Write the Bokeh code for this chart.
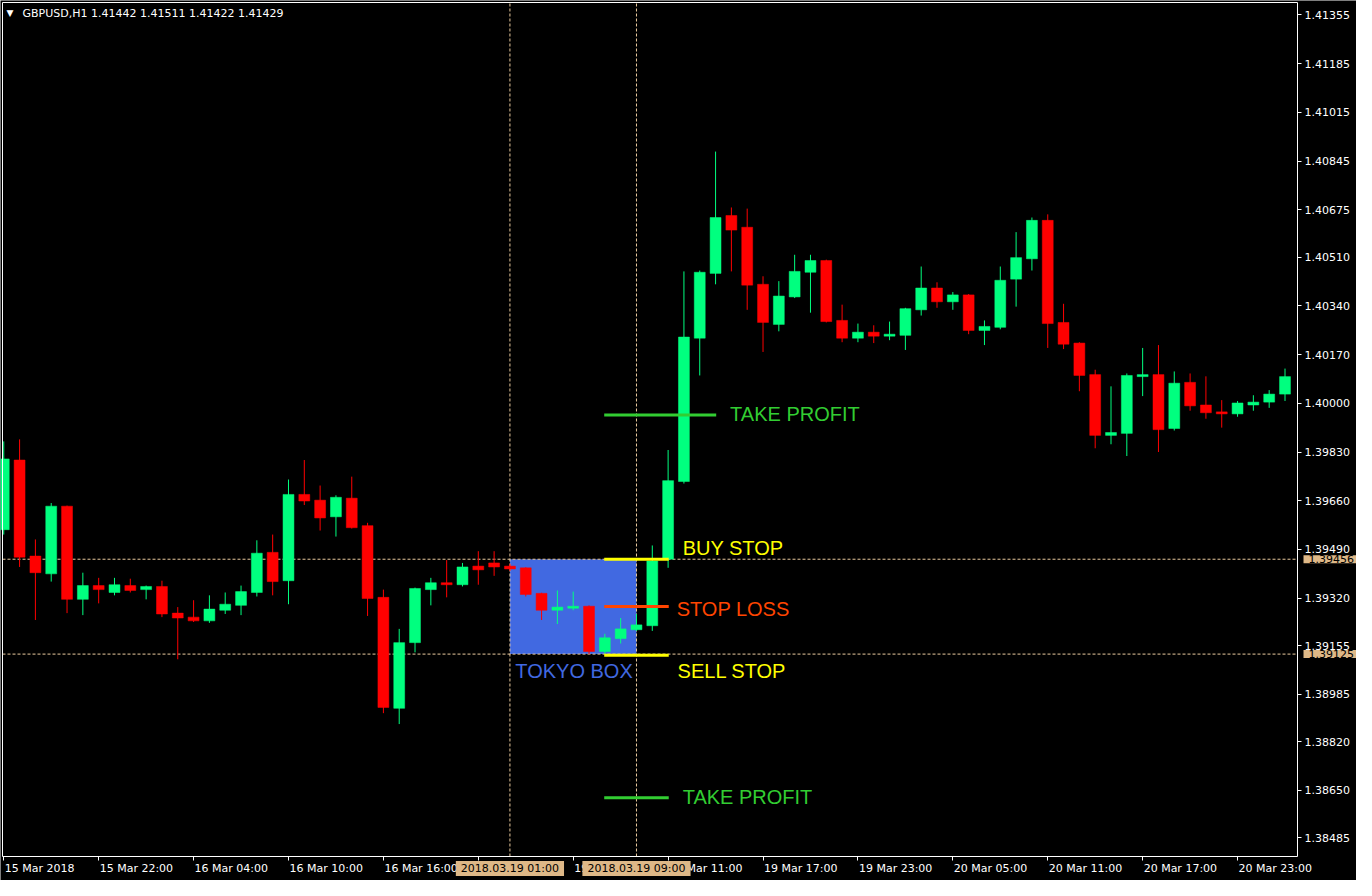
from bokeh.plotting import figure
from bokeh.models import (ColumnDataSource, FixedTicker, Label, Range1d, LinearAxis,
                          NumeralTickFormatter)
from bokeh.embed import file_html
from bokeh.resources import INLINE

# ---------------- data (GBPUSD H1, 15 Mar 16:00 .. 21 Mar 02:00) ----------------
opens = [1.39559, 1.39802, 1.39467, 1.39405, 1.39641, 1.39316, 1.39364, 1.39340, 1.39364, 1.39350,
         1.39361, 1.39268, 1.39254, 1.39241, 1.39278, 1.39295, 1.39340, 1.39480, 1.39381, 1.39682,
         1.39662, 1.39604, 1.39669, 1.39573, 1.39323, 1.38936, 1.39165, 1.39350, 1.39374, 1.39367,
         1.39432, 1.39443, 1.39432, 1.39426, 1.39337, 1.39278, 1.39285, 1.39292, 1.39134, 1.39179,
         1.39210, 1.39224, 1.39456, 1.39727, 1.40227, 1.40453, 1.40655, 1.40614, 1.40415, 1.40275,
         1.40371, 1.40457, 1.40498, 1.40289, 1.40227, 1.40248, 1.40234, 1.40237, 1.40326, 1.40402,
         1.40354, 1.40378, 1.40254, 1.40265, 1.40433, 1.40504, 1.40638, 1.40282, 1.40210, 1.40100,
         1.39888, 1.39895, 1.40093, 1.40100, 1.39912, 1.40073, 1.39994, 1.39970, 1.39963, 1.39994,
         1.40004, 1.40032]
highs = [1.39867, 1.39874, 1.39525, 1.39652, 1.39643, 1.39409, 1.39391, 1.39391, 1.39388, 1.39364,
         1.39381, 1.39289, 1.39313, 1.39330, 1.39340, 1.39364, 1.39522, 1.39542, 1.39734, 1.39802,
         1.39713, 1.39679, 1.39744, 1.39583, 1.39350, 1.39213, 1.39357, 1.39391, 1.39453, 1.39443,
         1.39484, 1.39484, 1.39440, 1.39428, 1.39339, 1.39347, 1.39343, 1.39295, 1.39196, 1.39251,
         1.39265, 1.39504, 1.39837, 1.40460, 1.40463, 1.40878, 1.40683, 1.40679, 1.40443, 1.40426,
         1.40518, 1.40518, 1.40501, 1.40344, 1.40278, 1.40272, 1.40285, 1.40333, 1.40477, 1.40422,
         1.40388, 1.40381, 1.40289, 1.40477, 1.40597, 1.40648, 1.40659, 1.40347, 1.40213, 1.40117,
         1.40059, 1.40104, 1.40193, 1.40203, 1.40111, 1.40104, 1.40094, 1.40011, 1.40008, 1.40028,
         1.40046, 1.40121]
lows = [1.39542, 1.39429, 1.39244, 1.39378, 1.39268, 1.39261, 1.39302, 1.39330, 1.39340, 1.39316,
        1.39254, 1.39107, 1.39237, 1.39234, 1.39265, 1.39261, 1.39326, 1.39330, 1.39299, 1.39645,
        1.39556, 1.39535, 1.39563, 1.39258, 1.38919, 1.38881, 1.39131, 1.39295, 1.39323, 1.39361,
        1.39367, 1.39398, 1.39415, 1.39326, 1.39244, 1.39230, 1.39278, 1.39125, 1.39127, 1.39162,
        1.39206, 1.39206, 1.39426, 1.39720, 1.40097, 1.40415, 1.40460, 1.40326, 1.40179, 1.40251,
        1.40367, 1.40316, 1.40282, 1.40213, 1.40213, 1.40210, 1.40220, 1.40186, 1.40306, 1.40333,
        1.40326, 1.40241, 1.40203, 1.40258, 1.40337, 1.40463, 1.40193, 1.40189, 1.40042, 1.39843,
        1.39857, 1.39816, 1.40025, 1.39830, 1.39905, 1.39974, 1.39946, 1.39915, 1.39953, 1.39974,
        1.39984, 1.40008]
closes = [1.39806, 1.39463, 1.39409, 1.39641, 1.39316, 1.39364, 1.39350, 1.39367, 1.39347, 1.39361,
          1.39265, 1.39251, 1.39241, 1.39282, 1.39299, 1.39343, 1.39477, 1.39378, 1.39682, 1.39659,
          1.39600, 1.39672, 1.39566, 1.39319, 1.38939, 1.39165, 1.39354, 1.39374, 1.39367, 1.39429,
          1.39419, 1.39429, 1.39422, 1.39333, 1.39278, 1.39289, 1.39292, 1.39134, 1.39182, 1.39213,
          1.39227, 1.39450, 1.39730, 1.40231, 1.40457, 1.40648, 1.40604, 1.40412, 1.40282, 1.40374,
          1.40460, 1.40498, 1.40285, 1.40227, 1.40248, 1.40234, 1.40241, 1.40330, 1.40402, 1.40354,
          1.40378, 1.40254, 1.40268, 1.40429, 1.40508, 1.40638, 1.40278, 1.40206, 1.40097, 1.39888,
          1.39898, 1.40097, 1.40100, 1.39908, 1.40070, 1.39991, 1.39967, 1.39963, 1.40001, 1.40004,
          1.40032, 1.40093]

price_ticks = [1.41355, 1.41185, 1.41015, 1.40845, 1.40675, 1.40510, 1.40340, 1.40170, 1.40000,
               1.39830, 1.39660, 1.39490, 1.39320, 1.39155, 1.38985, 1.38820, 1.38650, 1.38485]
time_tick_bars = [0, 6, 12, 18, 24, 30, 36, 42, 48, 54, 60, 66, 72, 78]
time_tick_labels = ["15 Mar 2018", "15 Mar 22:00", "16 Mar 04:00", "16 Mar 10:00", "16 Mar 16:00",
                    "16 Mar 22:00", "19 Mar 05:00", "19 Mar 11:00", "19 Mar 17:00", "19 Mar 23:00",
                    "20 Mar 05:00", "20 Mar 11:00", "20 Mar 17:00", "20 Mar 23:00"]

title_text = "GBPUSD,H1  1.41442 1.41511 1.41422 1.41429"

box_start_bar = 32
box_end_bar = 40
box_start_label = "2018.03.19 01:00"
box_end_label = "2018.03.19 09:00"
box_high = 1.39456
box_low = 1.39125
buy_stop = 1.39456
sell_stop = 1.39121
stop_loss = 1.39291
take_profit_up = 1.39959
take_profit_down = 1.38624

# ---------------- layout constants ----------------
W, H = 1356, 880
chart_left, chart_right = -0.08, 81.79          # visible bar span of the chart window
chart_top, chart_bottom = 1.41398, 1.38419      # visible price span
chart_x0_px, chart_y0_px = 2, 2                 # window offset inside the canvas
chart_w_px, chart_h_px = 1295, 854
ppb = chart_w_px / (chart_right - chart_left)
ppu = chart_h_px / (chart_top - chart_bottom)
x_start = chart_left - chart_x0_px / ppb
x_end = x_start + W / ppb
y_end = chart_top + chart_y0_px / ppu
y_start = y_end - H / ppu

p = figure(width=W, height=H, output_backend="svg", toolbar_location=None,
           x_range=Range1d(x_start, x_end), y_range=Range1d(y_start, y_end),
           y_axis_location="right", min_border_left=0, min_border_top=0,
           min_border_bottom=0, min_border_right=0)
p.background_fill_color = "black"
p.border_fill_color = "black"
p.outline_line_color = None
p.xgrid.visible = False
p.ygrid.visible = False

# price axis (right edge of chart window)
p.yaxis.fixed_location = chart_right
p.yaxis.bounds = (chart_bottom, chart_top)
p.yaxis.ticker = FixedTicker(ticks=price_ticks)
p.yaxis.formatter = NumeralTickFormatter(format="0.00000")
p.yaxis.axis_line_color = "white"
p.yaxis.major_tick_line_color = "white"
p.yaxis.major_tick_out = 4
p.yaxis.major_tick_in = 0
p.yaxis.minor_tick_line_color = None
p.yaxis.major_label_text_color = "white"
p.yaxis.major_label_text_font = "DejaVu Sans"
p.yaxis.major_label_text_font_size = "11px"
p.yaxis.major_label_standoff = 3

# time axis (bottom edge of chart window); labels drawn left-aligned below
p.xaxis.fixed_location = chart_bottom
p.xaxis.bounds = (chart_left, chart_right)
p.xaxis.ticker = FixedTicker(ticks=time_tick_bars)
p.xaxis.major_label_overrides = {b: "" for b in time_tick_bars}
p.xaxis.major_label_text_font_size = "1px"
p.xaxis.axis_line_color = "white"
p.xaxis.major_tick_line_color = "white"
p.xaxis.major_tick_out = 4
p.xaxis.major_tick_in = 0
p.xaxis.minor_tick_line_color = None

# top and left border lines of the chart window
top_axis = LinearAxis(fixed_location=chart_top, bounds=(chart_left, chart_right),
                      ticker=FixedTicker(ticks=[]), axis_line_color="white",
                      major_tick_line_color=None, minor_tick_line_color=None,
                      major_label_text_font_size="1px")
left_axis = LinearAxis(fixed_location=chart_left, bounds=(chart_bottom, chart_top),
                       ticker=FixedTicker(ticks=[]), axis_line_color="white",
                       major_tick_line_color=None, minor_tick_line_color=None,
                       major_label_text_font_size="1px")
p.add_layout(top_axis, "above")
p.add_layout(left_axis, "left")

# Tokyo box
p.quad(left=[box_start_bar], right=[box_end_bar], bottom=[box_low], top=[box_high],
       fill_color="#4169E1", line_color=None)

# dashed separators
dash_col = "#EBCB9F"
p.segment(x0=[box_start_bar, box_end_bar], x1=[box_start_bar, box_end_bar],
          y0=[chart_bottom, chart_bottom], y1=[chart_top, chart_top],
          line_color=dash_col, line_dash="3 2", line_width=1)
p.segment(x0=[chart_left, chart_left], x1=[chart_right, chart_right],
          y0=[box_high, box_low], y1=[box_high, box_low],
          line_color=dash_col, line_dash="3 2", line_width=1)

# candles
idx = list(range(len(opens)))
colors = ["#00FF7F" if c >= o else "#FF0000" for o, c in zip(opens, closes)]
src = ColumnDataSource(dict(
    x=idx,
    top=[max(o, c) for o, c in zip(opens, closes)],
    bottom=[min(o, c) for o, c in zip(opens, closes)],
    high=highs, low=lows, color=colors))
p.segment(x0="x", y0="low", x1="x", y1="high", line_color="color", line_width=1, source=src)
p.vbar(x="x", width=0.69, top="top", bottom="bottom", fill_color="color",
       line_color="color", line_width=0.5, source=src)

# order levels
p.segment(x0=[37.96], y0=[take_profit_up], x1=[45.04], y1=[take_profit_up],
          line_color="#32CD32", line_width=3)
p.segment(x0=[37.96], y0=[take_profit_down], x1=[42.04], y1=[take_profit_down],
          line_color="#32CD32", line_width=3)
p.segment(x0=[37.96], y0=[buy_stop], x1=[42.04], y1=[buy_stop],
          line_color="#FFFF00", line_width=3)
p.segment(x0=[37.96], y0=[sell_stop], x1=[42.04], y1=[sell_stop],
          line_color="#FFFF00", line_width=3)
p.segment(x0=[37.96], y0=[stop_loss], x1=[42.04], y1=[stop_loss],
          line_color="#FF4500", line_width=3)

def txt(x, y, s, col):
    p.add_layout(Label(x=x, y=y, text=s, text_color=col, text_font="Liberation Sans",
                       text_font_size="20px", text_align="left", text_baseline="middle"))

txt(45.92, 1.39961, "TAKE PROFIT", "#32CD32")
txt(42.92, 1.39496, "BUY STOP", "#FFFF00")
txt(42.54, 1.39282, "STOP LOSS", "#FF4500")
txt(42.60, 1.39067, "SELL STOP", "#FFFF00")
txt(32.34, 1.39065, "TOKYO BOX", "#4169E1")
txt(42.92, 1.38628, "TAKE PROFIT", "#32CD32")

# title
p.add_layout(Label(x=chart_left, y=chart_top, x_offset=4, y_offset=-10, text="\u25BC",
                   text_color="white", text_font="DejaVu Sans", text_font_size="9px",
                   text_baseline="middle"))
p.add_layout(Label(x=chart_left, y=chart_top, x_offset=20, y_offset=-10.5, text=title_text,
                   text_color="white", text_font="DejaVu Sans", text_font_size="11px",
                   text_baseline="middle"))

# time labels (left aligned at tick, below the window)
for b, t in zip(time_tick_bars, time_tick_labels):
    p.add_layout(Label(x=b, y=chart_bottom, x_offset=1, y_offset=-12, text=t,
                       text_color="white", text_font="DejaVu Sans", text_font_size="11px",
                       text_align="left", text_baseline="middle"))

# highlighted time labels
for b, t in ((box_start_bar, box_start_label), (box_end_bar, box_end_label)):
    p.add_layout(Label(x=b, y=chart_bottom, y_offset=-12, text=t,
                       text_color="black", text_font="DejaVu Sans", text_font_size="11px",
                       text_align="center", text_baseline="middle",
                       background_fill_color="#DEB887", padding=(5, 1)))

# highlighted price labels
for lv in (box_high, box_low):
    p.add_layout(Label(x=chart_right, y=lv, x_offset=6, text=f"{lv:.5f}",
                       text_color="black", text_font="DejaVu Sans", text_font_size="11px",
                       text_align="left", text_baseline="middle",
                       background_fill_color="#DEB887", padding=(5, 0)))

open("out.html", "w").write(file_html(p, INLINE))
